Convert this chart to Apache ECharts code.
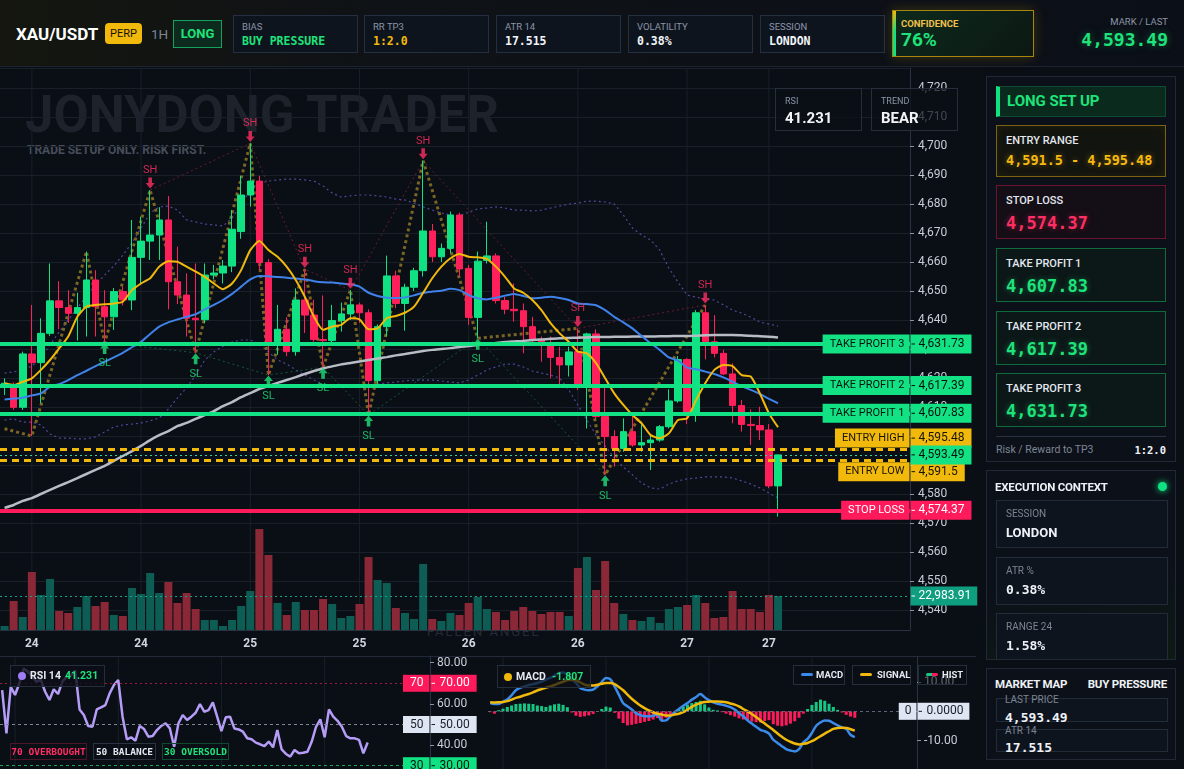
<!DOCTYPE html>
<html lang="en"><head><meta charset="utf-8"><title>XAU/USDT Trade Setup</title>
<script src="https://cdn.jsdelivr.net/npm/echarts@6.0.0/dist/echarts.min.js"></script>
<style>
*{box-sizing:border-box}
html,body{margin:0;padding:0;width:1184px;height:769px;overflow:hidden;background:#0a0e15;font-family:Roboto,"Noto Sans",Arial,sans-serif;color:#e6eaf0}
.a{position:absolute;white-space:nowrap}
.mono{font-family:"DejaVu Sans Mono","Liberation Mono",monospace;font-weight:bold}
#chart{position:absolute;left:0;top:0;width:1184px;height:769px;z-index:1}
.z3{z-index:3}.z2{z-index:2}
.hdr{left:0;top:0;width:1184px;height:67px;background:linear-gradient(90deg,#14160f 0%,#0f1216 32%,#0b0f17 100%);border-bottom:1px solid #1c2330}
.stat{top:15px;height:38px;width:125px;border:1px solid #243042;background:#0e141e}
.stat .l{position:absolute;left:8px;top:5px;font-size:9.5px;line-height:11px;color:#8b95a7}
.stat .v{position:absolute;left:8px;top:18px;font-size:11.5px;line-height:14px}
.card{position:absolute;left:996px;width:170px;border:1px solid}
.card .cl{position:absolute;left:9px;top:8px;font-size:11px;line-height:14px;color:#e3e7ee;font-weight:500}
.card .cv{position:absolute;left:9px}
.sub{position:absolute;left:9px;width:172px;border:1px solid #232b38;background:#0e141d}
.sub .sl{position:absolute;left:9px;top:7px;font-size:10px;line-height:12px;color:#7d8594}
.sub .sv{position:absolute;left:9px;top:23px;font-size:13px;line-height:18px;color:#eef1f6}
.ttl{font-size:11.5px;font-weight:bold;line-height:14px;color:#eef1f6;letter-spacing:-0.2px}
.ovb{border:1px solid #262e3b;background:rgba(11,15,22,0.72)}
.badge{top:743px;height:17px;border:1px solid;font-size:9.5px;line-height:15px;text-align:center}
.lg{top:665px;height:20px;border:1px solid #262e3b;background:rgba(11,15,22,0.55);font-size:9.5px;font-weight:bold;line-height:18px;color:#e6eaf0}
.seg{position:absolute;top:7px;width:12px;height:3px;border-radius:2px}
</style></head><body>

<div class="a" style="left:25px;top:85px;font:bold 51px Roboto,sans-serif;line-height:60px;color:#1d222b">JONYDONG TRADER</div>
<div class="a" style="left:27px;top:143px;font:bold 12px Roboto,sans-serif;line-height:14px;color:#474e5a">TRADE SETUP ONLY. RISK FIRST.</div>
<div class="a" style="left:427px;top:624px;font:13px Roboto,sans-serif;line-height:16px;letter-spacing:2px;color:#262c36">FALLEN ANGEL</div>

<div id="chart"></div>

<!-- header -->
<div class="a hdr z3">
  <div class="a" style="left:16px;top:24px;font-size:17px;font-weight:bold;line-height:20px;color:#ffffff">XAU/USDT</div>
  <div class="a" style="left:105px;top:23px;width:37px;height:21px;background:#f0b90b;border-radius:4px;color:#15120a;font-size:11px;line-height:21px;text-align:center">PERP</div>
  <div class="a" style="left:151px;top:25px;font-size:13.5px;line-height:18px;color:#7d8594">1H</div>
  <div class="a" style="left:173px;top:20px;width:49px;height:28px;border:1px solid #14a35c;background:#0c2a1e;color:#1ee37a;font-size:13px;font-weight:bold;line-height:26px;text-align:center">LONG</div>
  <div class="a stat" style="left:233px"><div class="l">BIAS</div><div class="v mono" style="color:#1ee37a">BUY PRESSURE</div></div>
  <div class="a stat" style="left:364px"><div class="l">RR TP3</div><div class="v mono" style="color:#f0b90b">1:2.0</div></div>
  <div class="a stat" style="left:496px"><div class="l">ATR 14</div><div class="v mono" style="color:#f2f4f8">17.515</div></div>
  <div class="a stat" style="left:628px"><div class="l">VOLATILITY</div><div class="v mono" style="color:#f2f4f8">0.38%</div></div>
  <div class="a stat" style="left:760px"><div class="l">SESSION</div><div class="v mono" style="color:#f2f4f8">LONDON</div></div>
  <div class="a" style="left:892px;top:10px;width:142px;height:47px;border:1px solid #a8850f;background:linear-gradient(135deg,#0d2a1c,#0c1813);box-shadow:0 0 12px rgba(240,185,11,0.22)">
    <div class="a" style="left:0;top:0;width:3px;height:45px;background:linear-gradient(180deg,#f0b90b,#10e283 45%)"></div>
    <div class="a" style="left:8px;top:7px;font-size:9.5px;font-weight:bold;line-height:11px;color:#f0c14b">CONFIDENCE</div>
    <div class="a" style="left:8px;top:18px;font-size:19px;font-weight:bold;line-height:22px;color:#1ee37a">76%</div>
  </div>
  <div class="a" style="right:16px;top:16px;font-size:9.5px;line-height:11px;color:#8b95a7;text-align:right">MARK / LAST</div>
  <div class="a mono" style="right:16px;top:29px;font-size:18px;line-height:22px;color:#1ee37a;text-shadow:0 0 8px rgba(30,227,122,0.35)">4,593.49</div>
</div>

<!-- in-chart overlays -->
<div class="a ovb z2" style="left:775px;top:88px;width:87px;height:43px">
  <div class="a" style="left:9px;top:7px;font-size:9px;line-height:11px;color:#8b95a7">RSI</div>
  <div class="a" style="left:9px;top:20px;font-size:15px;font-weight:bold;line-height:18px;color:#f2f4f8">41.231</div>
</div>
<div class="a ovb z2" style="left:871px;top:88px;width:87px;height:43px">
  <div class="a" style="left:9px;top:7px;font-size:9px;line-height:11px;color:#8b95a7">TREND</div>
  <div class="a" style="left:9px;top:20px;font-size:15px;font-weight:bold;line-height:18px;color:#f2f4f8">BEAR</div>
</div>

<div class="a lg z2" style="left:10px;width:95px;height:22px;background:rgba(11,15,22,0.8)">
  <div class="a" style="left:7px;top:6px;width:8px;height:8px;border-radius:50%;background:#9f7df5"></div>
  <div class="a" style="left:19px;top:1px;font-size:10.5px;line-height:18px">RSI 14</div>
  <div class="a" style="left:54px;top:1px;font-size:10.5px;line-height:18px;color:#1ee37a">41.231</div>
</div>
<div class="a badge mono z2" style="left:10px;width:77px;border-color:#4b1628;color:#ff2e63">70 OVERBOUGHT</div>
<div class="a badge mono z2" style="left:93px;width:63px;border-color:#2b3240;color:#e2e6ee">50 BALANCE</div>
<div class="a badge mono z2" style="left:162px;width:67px;border-color:#0f4a30;color:#1ee37a">30 OVERSOLD</div>

<div class="a lg z2" style="left:497px;width:94px;height:23px;background:rgba(11,15,22,0.7)">
  <div class="a" style="left:6px;top:7px;width:8px;height:8px;border-radius:50%;background:#f0b90b"></div>
  <div class="a" style="left:18px;top:2px;font-size:10.5px;line-height:18px">MACD</div>
  <div class="a" style="left:54px;top:2px;font-size:10.5px;line-height:18px;color:#1ee37a">-1.807</div>
</div>
<div class="a lg z2" style="left:793px;width:52px"><div class="seg" style="left:7px;background:#3b8bea"></div><div class="a" style="left:22px;top:0">MACD</div></div>
<div class="a lg z2" style="left:852px;width:59px"><div class="seg" style="left:7px;background:#f0b90b"></div><div class="a" style="left:24px;top:0">SIGNAL</div></div>
<div class="a lg z2" style="left:918px;width:49px"><div class="seg" style="left:7px;background:linear-gradient(90deg,#16c784 50%,#ff1a5c 50%)"></div><div class="a" style="left:23px;top:0">HIST</div></div>

<!-- right panel: setup -->
<div class="a z3" style="left:986px;top:76px;width:190px;height:386px;border:1px solid #212937;background:#0c1119"></div>
<div class="a z3" style="left:996px;top:86px;width:170px;height:31px;background:#0b2a1e;border:1px solid #0f4a33;border-left:4px solid #10e283">
  <div class="a" style="left:7px;top:5px;font-size:15px;font-weight:bold;line-height:19px;color:#1ee37a">LONG SET UP</div>
</div>
<div class="card z3" style="top:125px;height:52px;border-color:#7d6210;background:#12140f;box-shadow:inset 0 0 10px rgba(240,185,11,0.07)">
  <div class="cl">ENTRY RANGE</div>
  <div class="cv mono" style="top:25px;font-size:13.5px;line-height:18px;color:#f5b90f;text-shadow:0 0 6px rgba(245,185,15,0.45)">4,591.5 - 4,595.48</div>
</div>
<div class="card z3" style="top:185px;height:54px;border-color:#6a1430;background:#140e16">
  <div class="cl">STOP LOSS</div>
  <div class="cv mono" style="top:27px;font-size:17px;line-height:20px;color:#ff2e63;text-shadow:0 0 6px rgba(255,46,99,0.45)">4,574.37</div>
</div>
<div class="card z3" style="top:248px;height:54px;border-color:#0f6a3e;background:#0c1718">
  <div class="cl">TAKE PROFIT 1</div>
  <div class="cv mono" style="top:27px;font-size:17px;line-height:20px;color:#1ee37a;text-shadow:0 0 6px rgba(30,227,122,0.4)">4,607.83</div>
</div>
<div class="card z3" style="top:311px;height:54px;border-color:#0f6a3e;background:#0c1718">
  <div class="cl">TAKE PROFIT 2</div>
  <div class="cv mono" style="top:27px;font-size:17px;line-height:20px;color:#1ee37a;text-shadow:0 0 6px rgba(30,227,122,0.4)">4,617.39</div>
</div>
<div class="card z3" style="top:373px;height:54px;border-color:#0f6a3e;background:#0c1718">
  <div class="cl">TAKE PROFIT 3</div>
  <div class="cv mono" style="top:27px;font-size:17px;line-height:20px;color:#1ee37a;text-shadow:0 0 6px rgba(30,227,122,0.4)">4,631.73</div>
</div>
<div class="a z3" style="left:996px;top:436px;width:170px;height:1px;background:#2a3342"></div>
<div class="a z3" style="left:996px;top:443px;font-size:10.5px;line-height:14px;color:#7d8594">Risk / Reward to TP3</div>
<div class="a mono z3" style="right:18px;top:443px;font-size:10.5px;line-height:14px;color:#eef1f6">1:2.0</div>

<!-- execution context -->
<div class="a z3" style="left:986px;top:470px;width:190px;height:190px;overflow:hidden;border:1px solid #212937;background:linear-gradient(170deg,#0c1119 55%,#0e1914 100%)">
  <div class="a ttl" style="left:8px;top:9px">EXECUTION CONTEXT</div>
  <div class="a" style="left:171px;top:11px;width:9px;height:9px;border-radius:50%;background:#10e283;box-shadow:0 0 6px #10e283"></div>
  <div class="sub" style="top:29px;height:48px"><div class="sl">SESSION</div><div class="sv" style="font-weight:bold;font-size:13px">LONDON</div></div>
  <div class="sub" style="top:86px;height:48px"><div class="sl">ATR %</div><div class="sv mono">0.38%</div></div>
  <div class="sub" style="top:142px;height:48px"><div class="sl">RANGE 24</div><div class="sv mono">1.58%</div></div>
</div>

<!-- market map -->
<div class="a z3" style="left:986px;top:668px;width:190px;height:92px;border:1px solid #212937;background:#0c1119">
  <div class="a ttl" style="left:8px;top:8px">MARKET MAP</div>
  <div class="a ttl" style="right:8px;top:8px">BUY PRESSURE</div>
  <div class="sub" style="top:29px;height:24px"></div>
  <div class="sub" style="top:60px;height:23px"></div>
  <div class="a" style="left:18px;top:25px;font-size:10px;line-height:12px;color:#7d8594">LAST PRICE</div>
  <div class="a mono" style="left:18px;top:41px;font-size:13px;line-height:16px;color:#eef1f6">4,593.49</div>
  <div class="a" style="left:18px;top:56px;font-size:10px;line-height:12px;color:#7d8594">ATR 14</div>
  <div class="a mono" style="left:18px;top:71px;font-size:13px;line-height:16px;color:#eef1f6">17.515</div>
</div>

<script>
// ---------------- data ----------------
// [open, close, low, high]
const ohlc = [
[4617.2,4618.2,4614.1,4619.9],[4617.2,4609.9,4609.0,4618.5],[4609.9,4628.3,4609.0,4629.1],[4628.3,4625.3,4600.0,4645.2],
[4625.3,4635.4,4611.3,4640.6],[4635.4,4646.6,4634.5,4659.5],[4646.6,4644.3,4636.8,4653.4],[4644.3,4642.3,4639.0,4650.3],
[4642.3,4644.3,4632.9,4649.4],[4644.3,4653.8,4634.3,4663.6],[4653.8,4644.6,4634.3,4657.2],[4644.6,4641.1,4632.2,4650.3],
[4641.1,4649.8,4636.6,4651.0],[4649.8,4646.9,4645.0,4651.5],[4646.9,4661.6,4643.4,4674.5],[4661.6,4667.2,4652.6,4675.6],
[4667.2,4669.3,4660.7,4684.8],[4669.3,4674.5,4660.7,4678.9],[4674.5,4653.2,4643.7,4682.8],[4653.2,4648.6,4645.5,4665.3],
[4648.6,4640.6,4634.3,4656.1],[4640.6,4640.1,4628.7,4659.5],[4640.1,4655.5,4639.0,4659.5],[4655.5,4656.2,4654.0,4659.0],
[4656.2,4658.6,4652.6,4660.7],[4658.6,4671.3,4656.5,4677.9],[4670.5,4683.1,4668.0,4689.7],[4683.1,4687.9,4679.1,4700.9],
[4687.9,4659.8,4657.2,4689.7],[4659.8,4632.5,4621.0,4661.0],[4632.5,4636.8,4628.0,4645.2],[4636.8,4629.1,4627.5,4641.0],
[4629.1,4646.9,4627.7,4650.9],[4646.9,4641.7,4635.5,4657.5],[4641.7,4633.3,4632.5,4647.0],[4633.3,4632.9,4623.7,4648.5],
[4632.9,4639.8,4632.0,4645.2],[4639.8,4642.1,4636.0,4646.0],[4642.1,4645.2,4640.0,4650.3],[4645.2,4642.5,4639.0,4646.0],
[4642.5,4619.1,4607.2,4643.7],[4619.1,4637.7,4618.0,4638.5],[4637.7,4655.2,4634.3,4662.2],[4655.2,4645.7,4644.0,4657.0],
[4645.7,4651.3,4636.3,4652.5],[4651.3,4657.0,4650.0,4658.0],[4657.0,4670.7,4655.0,4694.9],[4670.7,4661.8,4660.0,4673.1],
[4661.8,4664.7,4660.0,4666.4],[4664.7,4676.2,4663.0,4677.4],[4676.2,4657.6,4655.0,4677.0],[4657.8,4640.9,4638.3,4659.0],
[4640.9,4660.3,4633.7,4663.6],[4660.5,4662.1,4659.5,4673.9],[4662.1,4646.7,4645.7,4663.0],[4646.7,4643.7,4642.0,4648.0],
[4643.7,4643.2,4639.4,4652.6],[4643.2,4637.7,4628.5,4645.7],[4637.7,4633.1,4632.0,4641.1],[4633.1,4632.0,4625.6,4634.3],
[4632.0,4627.1,4619.9,4634.3],[4627.1,4624.5,4617.6,4630.8],[4624.5,4629.0,4620.5,4630.8],[4629.1,4617.6,4615.9,4637.1],
[4617.6,4635.2,4602.6,4635.6],[4635.2,4606.7,4606.0,4636.8],[4606.7,4599.8,4586.6,4617.0],[4599.8,4595.7,4589.4,4602.0],
[4595.7,4601.5,4594.6,4606.1],[4601.5,4596.9,4596.3,4607.2],[4596.9,4597.7,4594.6,4604.9],[4597.7,4598.6,4588.3,4600.3],
[4598.6,4603.2,4598.0,4603.8],[4603.2,4612.1,4602.6,4616.1],[4612.1,4626.4,4611.5,4627.6],[4626.4,4607.8,4604.1,4626.8],
[4607.8,4642.5,4604.9,4643.4],[4642.5,4632.5,4626.4,4645.2],[4632.5,4628.5,4627.1,4641.7],[4628.5,4621.4,4621.0,4629.7],
[4621.4,4610.5,4604.4,4625.1],[4610.5,4604.0,4601.5,4612.4],[4604.0,4603.6,4596.9,4609.2],[4603.6,4602.1,4598.6,4610.1],
[4602.1,4582.8,4582.0,4604.1],[4582.8,4593.49,4572.2,4593.6]
];
const volume = [2704,19602,8787,39202,23657,34471,12842,11490,15546,22981,
16222,18925,10139,9463,28388,24332,38526,25008,32443,18249,
25008,14194,6759,6759,2704,6759,16222,26360,68266,50693,
18249,10139,18925,13518,13518,20953,17573,8111,9463,17573,
49341,33795,31767,14870,11490,7435,44609,7435,6083,11490,
10139,18249,22305,14194,12166,6759,12842,15546,12842,10814,
12166,12166,9463,41906,49341,27036,46637,18249,10814,6759,
6083,8787,4731,14194,15546,16898,23657,18249,8111,8787,
26360,14194,14194,12166,23657,22983.91];
const emaFast = [4618.2,4617.6,4618.7,4619.9,4622.8,4626.2,4630.2,4634.3,4641.1,4644.6,
4645.2,4645.4,4645.7,4646.3,4650.3,4652.6,4654.4,4658.4,4660.3,4660.1,
4658.4,4656.7,4654.9,4652.6,4650.6,4652.6,4657.2,4664.1,4667.2,4664.1,
4661.8,4658.4,4653.8,4648.0,4641.1,4636.6,4637.7,4638.3,4640.6,4640.2,
4636.8,4637.1,4640.6,4641.4,4642.5,4644.6,4649.4,4654.4,4658.4,4661.3,
4662.8,4661.8,4661.6,4661.1,4658.4,4654.9,4650.9,4649.4,4646.9,4643.4,
4638.9,4635.4,4632.5,4629.1,4628.5,4625.1,4619.9,4614.7,4610.7,4607.2,
4604.4,4600.3,4599.2,4600.9,4605.5,4606.1,4612.4,4618.2,4622.8,4624.5,
4624.1,4621.0,4620.5,4614.7,4607.8,4603.0];
const emaMid = [4612.6,4612.9,4613.2,4614.0,4614.7,4617.0,4617.9,4619.3,4621.0,4622.5,
4624.1,4625.6,4627.1,4628.7,4630.6,4632.5,4635.2,4637.7,4639.2,4640.2,
4641.1,4642.0,4643.7,4645.2,4646.9,4649.0,4651.5,4654.0,4655.2,4655.1,
4654.8,4654.6,4654.3,4654.0,4653.4,4653.0,4652.9,4652.6,4652.3,4651.5,
4649.4,4648.3,4647.7,4647.6,4647.8,4648.5,4649.4,4649.8,4650.1,4650.8,
4650.3,4648.6,4647.5,4647.1,4647.7,4648.4,4649.0,4648.3,4647.5,4647.7,
4648.0,4647.6,4646.9,4645.7,4645.5,4645.1,4643.4,4641.1,4639.2,4637.1,
4634.5,4632.0,4629.7,4627.1,4626.0,4623.6,4623.0,4622.2,4621.4,4620.2,
4618.7,4617.2,4615.9,4614.5,4612.8,4611.3];
const maSlow = [4575.2,4576.2,4577.6,4578.6,4580.0,4581.4,4582.8,4584.1,4585.5,4586.9,
4588.3,4589.7,4591.4,4593.1,4594.8,4596.6,4598.6,4600.3,4601.7,4603.4,
4604.5,4605.9,4607.2,4608.6,4610.3,4611.7,4613.4,4614.8,4616.2,4617.2,
4618.3,4619.3,4620.3,4621.4,4622.4,4623.3,4624.0,4624.7,4625.2,4625.7,
4626.2,4626.7,4627.2,4627.8,4628.3,4628.8,4629.3,4629.7,4630.0,4630.3,
4630.7,4631.0,4631.4,4631.7,4632.1,4632.4,4632.6,4632.8,4633.1,4633.3,
4633.5,4633.7,4633.8,4633.9,4634.0,4634.1,4634.1,4634.2,4634.2,4634.3,
4634.3,4634.3,4634.4,4634.4,4634.5,4634.5,4634.6,4634.7,4634.8,4634.8,
4634.8,4634.7,4634.6,4634.4,4634.2,4634.0];
const bbUpper = [4621.7,4622.1,4622.8,4624.1,4626.9,4631.4,4635.9,4640.0,4644.1,4648.3,
4652.1,4655.5,4658.6,4662.4,4666.6,4671.7,4676.9,4679.0,4679.3,4677.9,
4674.5,4673.8,4673.1,4672.8,4672.4,4675.2,4679.7,4684.8,4687.2,4687.9,
4688.3,4688.6,4688.6,4688.3,4687.9,4686.2,4683.8,4682.4,4682.8,4683.1,
4683.1,4682.8,4682.4,4681.7,4681.4,4680.3,4679.0,4677.9,4676.9,4676.2,
4675.9,4677.2,4678.3,4678.6,4679.0,4678.6,4677.9,4677.9,4677.6,4677.9,
4678.6,4679.3,4680.0,4680.3,4681.0,4681.0,4680.7,4680.0,4676.2,4671.7,
4669.3,4667.6,4664.1,4657.9,4653.1,4648.6,4647.9,4647.2,4646.9,4645.2,
4643.4,4642.4,4641.0,4639.3,4638.6,4637.9];
const bbLower = [4605.5,4605.9,4604.8,4604.8,4603.8,4600.7,4599.3,4599.3,4599.0,4599.0,
4599.7,4601.4,4603.1,4603.8,4604.1,4604.5,4605.2,4606.2,4609.3,4613.1,
4616.6,4621.0,4626.2,4629.0,4631.0,4632.4,4633.1,4633.1,4631.7,4629.0,
4626.2,4624.8,4622.8,4621.0,4619.3,4617.9,4616.9,4616.9,4617.2,4617.6,
4617.6,4617.9,4618.3,4618.6,4619.0,4619.3,4619.3,4619.3,4619.0,4618.6,
4618.3,4619.3,4621.0,4622.8,4623.8,4624.8,4624.8,4623.8,4622.4,4621.7,
4621.0,4620.0,4615.9,4610.7,4605.5,4600.3,4596.6,4592.4,4589.3,4586.6,
4583.8,4582.1,4581.7,4583.4,4584.5,4585.2,4585.5,4585.9,4585.9,4585.9,
4585.5,4584.5,4583.4,4582.1,4580.3,4578.6];
const swingHighs = [[16,4684.8],[27,4700.9],[33,4657.5],[38,4650.3],[46,4694.9],[63,4637.1],[77,4645.2]];
const swingLows = [[11,4632.2],[21,4628.7],[29,4621.0],[35,4623.7],[40,4607.2],[52,4633.7],[66,4586.6]];
const zigzag = [[0,4602.5],[3,4600.0],[9,4663.6],[11,4632.2],[16,4684.8],[21,4628.7],[27,4700.9],[29,4621.0],
[33,4657.5],[35,4623.7],[38,4650.3],[40,4607.2],[46,4694.9],[52,4633.7],[63,4637.1],[66,4586.6],[77,4645.2]];
const rsi = [66.7,45.7,68.3,64.3,70.0,77.2,75.6,73.2,70.8,71.6,
65.9,61.9,67.1,64.8,70.8,73.2,74.0,76.1,57.3,54.6,
49.3,48.9,57.3,58.3,59.4,65.1,69.2,71.6,53.8,42.8,
43.8,42.1,49.3,47.8,44.1,44.4,47.3,49.3,50.6,48.1,
39.2,50.6,54.6,52.2,53.8,55.7,59.9,56.2,57.0,60.7,
53.8,46.8,53.5,53.8,48.1,47.6,46.5,43.3,42.8,41.2,
40.4,39.5,41.7,38.9,47.3,37.9,35.7,34.4,37.6,36.0,
36.3,36.8,41.7,48.9,52.5,43.8,57.3,53.8,51.8,48.9,
44.4,43.3,43.3,42.5,36.0,41.231];
const macd = [2.8,2.5,2.5,3.3,4.0,5.5,7.2,8.0,8.5,9.0,
9.3,9.7,10.2,10.8,11.4,12.2,13.1,13.3,12.4,11.0,
9.7,8.0,7.4,7.2,7.4,8.5,10.0,11.4,11.0,8.5,
5.7,2.8,1.7,0.6,-0.6,-1.3,-1.7,-1.7,-1.5,-1.1,
-3.2,-3.1,-1.7,-0.3,0.8,1.9,2.8,4.0,4.9,5.9,
4.8,3.8,3.1,2.6,2.3,1.9,1.4,0.6,-0.6,-1.7,
-3.1,-4.2,-5.3,-6.3,-6.8,-7.6,-9.7,-10.8,-11.9,-12.9,
-13.4,-13.7,-12.9,-10.6,-9.4,-7.4,-4.9,-3.8,-3.1,-3.2,
-4.0,-4.8,-5.5,-6.0,-8.0,-8.8];
const signal = [3.1,3.0,3.1,3.2,3.5,4.0,4.6,5.0,5.5,5.9,
6.5,7.1,7.6,8.1,8.5,9.0,9.6,10.1,10.6,10.8,
10.6,9.9,9.1,8.8,8.8,9.1,9.4,9.7,9.7,9.3,
8.3,7.2,5.7,4.3,3.1,2.0,1.1,0.3,-0.3,-0.8,
-1.1,-1.4,-1.4,-1.1,-0.8,-0.3,0.6,1.5,2.3,2.8,
3.2,3.3,3.4,3.4,3.3,3.1,2.7,2.3,1.7,0.8,
0.0,-0.9,-1.9,-3.1,-4.2,-5.3,-6.4,-7.6,-8.7,-9.7,
-10.4,-11.0,-11.3,-11.1,-10.8,-10.2,-9.4,-8.5,-7.6,-6.8,
-6.0,-5.7,-5.6,-5.7,-6.1,-6.6];
const hist = [-0.3,-0.8,0.4,0.9,1.5,2.0,2.5,2.6,2.7,2.6,
2.5,2.0,1.8,1.5,2.0,2.4,2.6,2.2,1.4,-0.4,
-1.5,-1.9,-1.7,-1.4,-0.9,-0.2,0.8,1.6,1.3,-0.5,
-2.5,-4.0,-4.8,-4.6,-4.3,-4.0,-3.6,-3.3,-2.8,-2.3,
-3.0,-2.2,-1.2,-0.4,0.6,1.6,2.3,2.8,3.2,3.6,
2.4,1.3,0.5,0.3,-0.3,-0.8,-1.3,-1.8,-2.4,-2.8,
-3.2,-3.5,-3.7,-3.8,-3.3,-3.0,-4.4,-4.9,-5.1,-4.8,
-4.2,-3.4,-2.2,-0.8,0.8,2.2,3.2,4.0,3.6,2.6,
1.5,0.5,-0.4,-1.2,-1.8,-2.2];
const levelNames = ['TAKE PROFIT 3','TAKE PROFIT 2','TAKE PROFIT 1','ENTRY HIGH','ENTRY LOW','STOP LOSS'];
const levelValues = [4631.73,4617.39,4607.83,4595.48,4591.5,4574.37];
const lastPrice = 4593.49;
const rsiLevels = [70,50,30];
const tickIdx = [3,15,27,39,51,63,75,84];
const tickText = ['24','24','25','25','26','26','27','27'];
const subTickIdx = [3,27,51,75];
const slotCount = 100;

// ---------------- styling ----------------
const UP='#10e283', DN='#ff1f5a', VUP='#0e5d54', VDN='#8a2837';
const TPG='#12e184', YEL='#f0b90b', RED='#ff1a5c';
const levelStyle = [
  {bg:TPG,fg:'#06140d',line:{color:TPG,width:4,type:'solid'},shift:0},
  {bg:TPG,fg:'#06140d',line:{color:TPG,width:4,type:'solid'},shift:0},
  {bg:TPG,fg:'#06140d',line:{color:TPG,width:4,type:'solid'},shift:0},
  {bg:YEL,fg:'#1a1405',line:{color:YEL,width:3,type:[7,5]},shift:-11},
  {bg:YEL,fg:'#1a1405',line:{color:YEL,width:3,type:[7,5]},shift:11},
  {bg:RED,fg:'#ffffff',line:{color:RED,width:4,type:'solid'},shift:0}
];
const ARROW_DOWN='path://M3,0H7V5H10L5,10L0,5H3Z';
const ARROW_UP='path://M5,0L10,5H7V10H3V5H0Z';
const fmtPrice = v => v.toLocaleString('en-US',{maximumFractionDigits:2});

const cats = Array.from({length:slotCount},(_,i)=>String(i));
const priceMin = 4533.1, priceMax = 4726.9, volMax = 74360;

const chart = echarts.init(document.getElementById('chart'), null, {renderer:'canvas', width:1184, height:769});

const gridBase = {containLabel:false, outerBoundsMode:'none', show:false};
const xBase = {type:'category', data:cats, boundaryGap:true, axisLine:{show:false}, axisTick:{show:false},
  axisLabel:{show:false}, splitLine:{show:false}};
const yBase = {type:'value', position:'right',
  axisLine:{show:true, lineStyle:{color:'#2a3140'}},
  axisTick:{show:true, length:4, lineStyle:{color:'#8a93a3'}},
  axisLabel:{color:'#c8cdd6', fontSize:12, fontFamily:'Roboto', margin:5, showMinLabel:false, showMaxLabel:false},
  splitLine:{show:false}};
const lineBase = {type:'line', showSymbol:false, symbol:'none', silent:true, animation:false};

const option = {
  animation:false,
  backgroundColor:'transparent',
  grid:[
    Object.assign({left:0, top:68, width:910, height:562}, gridBase),
    Object.assign({left:0, top:520, width:910, height:110}, gridBase),
    Object.assign({left:0, top:656, width:430, height:113}, gridBase),
    Object.assign({left:488, top:656, width:429, height:113}, gridBase)
  ],
  xAxis:[
    Object.assign({}, xBase, {gridIndex:0}),
    Object.assign({}, xBase, {gridIndex:1, axisLine:{show:true, lineStyle:{color:'#2a3140'}},
      axisLabel:{show:true, interval:0, color:'#d0d5de', fontSize:12, fontWeight:'bold', fontFamily:'Roboto', margin:8,
        formatter:(v,i)=>{const k=tickIdx.indexOf(i); return k<0?'':tickText[k];}}}),
    Object.assign({}, xBase, {gridIndex:2}),
    Object.assign({}, xBase, {gridIndex:3})
  ],
  yAxis:[
    Object.assign({}, yBase, {gridIndex:0, min:priceMin, max:priceMax, splitNumber:19, minInterval:10, maxInterval:10,
      axisLabel:Object.assign({}, yBase.axisLabel, {margin:8, formatter:v=>v.toLocaleString('en-US')}),
      splitLine:{show:true, lineStyle:{color:'#19202a', width:1}}}),
    {type:'value', gridIndex:1, min:0, max:volMax, show:false, splitLine:{show:false}},
    Object.assign({}, yBase, {gridIndex:2, min:28.4, max:83.25, splitNumber:3, minInterval:20, maxInterval:20,
      axisLabel:Object.assign({}, yBase.axisLabel, {margin:7, formatter:v=>v.toFixed(2)})}),
    Object.assign({}, yBase, {gridIndex:3, min:-19.7, max:18.9, splitNumber:4, minInterval:10, maxInterval:10,
      axisLabel:Object.assign({}, yBase.axisLabel, {margin:7, formatter:v=>v.toFixed(2)})})
  ],
  series:[
    {name:'Volume', type:'bar', xAxisIndex:1, yAxisIndex:1, z:1, barWidth:8, silent:true,
      data:volume.map((v,i)=>({value:v, itemStyle:{color: ohlc[i][1]>=ohlc[i][0]?VUP:VDN}})),
      markLine:{silent:true, symbol:['none','none'], label:{show:false}, animation:false,
        lineStyle:{color:'#17a58a', width:1, type:[2,3]}, data:[{yAxis:volume[volume.length-1]}]}},
    Object.assign({}, lineBase, {name:'BB Upper', xAxisIndex:0, yAxisIndex:0, z:2, data:bbUpper,
      lineStyle:{color:'#55469e', width:1.2, type:[2,3]}}),
    Object.assign({}, lineBase, {name:'BB Lower', xAxisIndex:0, yAxisIndex:0, z:2, data:bbLower,
      lineStyle:{color:'#55469e', width:1.2, type:[2,3]}}),
    Object.assign({}, lineBase, {name:'SH link', xAxisIndex:0, yAxisIndex:0, z:2, data:swingHighs,
      lineStyle:{color:'#6e1b35', width:1, type:[2,3]}}),
    Object.assign({}, lineBase, {name:'SL link', xAxisIndex:0, yAxisIndex:0, z:2, data:swingLows,
      lineStyle:{color:'#145a3a', width:1, type:[2,3]}}),
    {name:'Price', type:'candlestick', xAxisIndex:0, yAxisIndex:0, z:3, barWidth:7, silent:true, data:ohlc,
      itemStyle:{color:UP, color0:DN, borderColor:UP, borderColor0:DN, borderWidth:1},
      markLine:{silent:true, symbol:['none','none'], label:{show:false}, animation:false,
        data: levelValues.map((v,i)=>({yAxis:v, lineStyle:levelStyle[i].line}))
          .concat([{yAxis:lastPrice, lineStyle:{color:'#2fd6a0', width:1, type:[2,3]}}])}},
    Object.assign({}, lineBase, {name:'Zigzag', xAxisIndex:0, yAxisIndex:0, z:3, data:zigzag,
      lineStyle:{color:'#7a6523', width:3, type:[3,3]}}),
    Object.assign({}, lineBase, {name:'MA slow', xAxisIndex:0, yAxisIndex:0, z:4, data:maSlow, smooth:0.2,
      lineStyle:{color:'#b8bcc5', width:2.5}}),
    Object.assign({}, lineBase, {name:'EMA mid', xAxisIndex:0, yAxisIndex:0, z:4, data:emaMid, smooth:0.2,
      lineStyle:{color:'#3f82ea', width:2}}),
    Object.assign({}, lineBase, {name:'EMA fast', xAxisIndex:0, yAxisIndex:0, z:4, data:emaFast, smooth:0.2,
      lineStyle:{color:'#f0b90b', width:2}}),
    {name:'SH', type:'scatter', xAxisIndex:0, yAxisIndex:0, z:6, silent:true, data:swingHighs,
      symbol:ARROW_DOWN, symbolSize:[9,11], symbolOffset:[0,-7], itemStyle:{color:'#ff2e63'}},
    {name:'SH text', type:'scatter', xAxisIndex:0, yAxisIndex:0, z:6, silent:true, data:swingHighs,
      symbolSize:1, itemStyle:{color:'rgba(0,0,0,0)'},
      label:{show:true, position:'inside', offset:[0,-20], formatter:'SH', color:'#ff2e63', fontSize:11, fontFamily:'Roboto'}},
    {name:'SL', type:'scatter', xAxisIndex:0, yAxisIndex:0, z:6, silent:true, data:swingLows,
      symbol:ARROW_UP, symbolSize:[9,11], symbolOffset:[0,6], itemStyle:{color:'#1ee37a'}},
    {name:'SL text', type:'scatter', xAxisIndex:0, yAxisIndex:0, z:6, silent:true, data:swingLows,
      symbolSize:1, itemStyle:{color:'rgba(0,0,0,0)'},
      label:{show:true, position:'inside', offset:[0,21], formatter:'SL', color:'#1ee37a', fontSize:11, fontFamily:'Roboto'}},
    Object.assign({}, lineBase, {name:'RSI', xAxisIndex:2, yAxisIndex:2, z:3, data:rsi,
      lineStyle:{color:'#b59cf7', width:2.5},
      markLine:{silent:true, symbol:['none','none'], label:{show:false}, animation:false,
        data:[{yAxis:rsiLevels[0], lineStyle:{color:'#a3163f', width:1, type:[2,3]}},
              {yAxis:rsiLevels[1], lineStyle:{color:'#7e8796', width:1, type:[3,3]}},
              {yAxis:rsiLevels[2], lineStyle:{color:'#17a35f', width:1, type:[3,3]}}]}}),
    {name:'Hist', type:'bar', xAxisIndex:3, yAxisIndex:3, z:2, barWidth:3, silent:true,
      data:hist.map(v=>({value:v, itemStyle:{color: v>=0?'#16c784':'#ff1a5c'}})),
      markLine:{silent:true, symbol:['none','none'], label:{show:false}, animation:false,
        data:[{yAxis:0, lineStyle:{color:'#5c6576', width:1, type:[3,3]}}]}},
    Object.assign({}, lineBase, {name:'MACD', xAxisIndex:3, yAxisIndex:3, z:3, data:macd, smooth:0.3,
      lineStyle:{color:'#3b8bea', width:2.5}}),
    Object.assign({}, lineBase, {name:'Signal', xAxisIndex:3, yAxisIndex:3, z:3, data:signal, smooth:0.3,
      lineStyle:{color:'#f0b90b', width:2.5}})
  ]
};
chart.setOption(option);

// -------- overlay tags & vertical grid lines positioned through the chart's own scales --------
function tag(x, y, text, bg, fg, align, font, pad){
  return {type:'text', x:x, y:y, z:100, silent:true,
    style:{text:text, fill:fg, backgroundColor:bg, padding:pad||[3,5,3,7], font:font||'11px Roboto',
      lineHeight:13, align:align, verticalAlign:'middle', textAlign:align, textVerticalAlign:'middle'}};
}
function vline(x, y1, y2){
  return {type:'line', z:0, silent:true, shape:{x1:x, y1:y1, x2:x, y2:y2}, style:{stroke:'#19202a', lineWidth:1}};
}
function hdash(x1, x2, y, c){
  return {type:'line', z:101, silent:true, shape:{x1:x1, y1:y, x2:x2, y2:y}, style:{stroke:c||'#1a1f29', lineWidth:1}};
}
function overlay(){
  const X=(a,v)=>chart.convertToPixel({xAxisIndex:a}, v);
  const Y=(a,v)=>chart.convertToPixel({yAxisIndex:a}, v);
  const els=[];
  tickIdx.forEach(i=>els.push(vline(X(0,i), 68, 630)));
  subTickIdx.forEach(i=>{ els.push(vline(X(2,i), 657, 769)); els.push(vline(X(3,i), 657, 769)); });
  els.push({type:'line', z:0, silent:true, shape:{x1:0, y1:656.5, x2:976, y2:656.5}, style:{stroke:'#222a37', lineWidth:1}});
  const PF='12px Roboto', PP=[3,7,3,8];
  levelValues.forEach((v,i)=>{
    const s=levelStyle[i]; const y=Y(0,v)+s.shift;
    els.push(tag(909.5, y, levelNames[i], s.bg, s.fg, 'right'));
    els.push(tag(910.5, y, fmtPrice(v), s.bg, s.fg, 'left', PF, PP));
    els.push(hdash(911.5, 915, y, s.fg));
  });
  const ly=Y(0,lastPrice);
  els.push(tag(910.5, ly, fmtPrice(lastPrice), TPG, '#06140d', 'left', PF, PP));
  els.push(hdash(911.5, 915, ly, '#06140d'));
  const lv = volume[volume.length-1];
  els.push(tag(910.5, Y(1,lv), lv.toLocaleString('en-US',{minimumFractionDigits:2}), '#0f9e80', '#ffffff', 'left', PF, [3,6,3,8]));
  els.push(hdash(911.5, 915, Y(1,lv), '#ffffff'));
  const rsiTag=[['#ff1a5c','#ffffff'],['#dfe6f3','#1a1f29'],['#10e283','#06140d']];
  rsiLevels.forEach((v,i)=>{
    const y=Y(2,v);
    els.push(tag(429.5, y, String(v), rsiTag[i][0], rsiTag[i][1], 'right', '12px Roboto', [2,6,2,7]));
    els.push(tag(430.5, y, v.toFixed(2), rsiTag[i][0], rsiTag[i][1], 'left', '12px Roboto', [2,7,2,9]));
    els.push(hdash(431.5, 435, y, rsiTag[i][1]));
  });
  const yz=Y(3,0);
  els.push(tag(916.5, yz, '0', '#dfe6f3', '#1a1f29', 'right', '12px Roboto', [2,5,2,6]));
  els.push(tag(917.5, yz, (0).toFixed(4), '#dfe6f3', '#1a1f29', 'left', '12px Roboto', [2,6,2,9]));
  els.push(hdash(918.5, 922, yz, '#1a1f29'));
  chart.setOption({graphic:{elements:els}});
}
overlay();
</script>
</body></html>
